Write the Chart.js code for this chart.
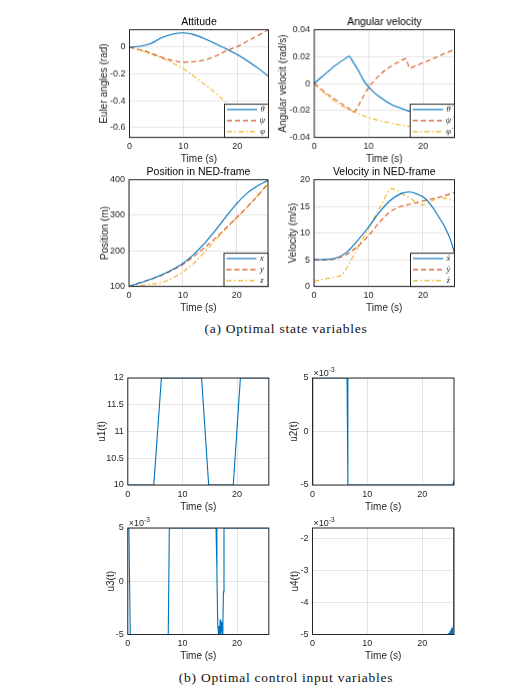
<!DOCTYPE html>
<html>
<head>
<meta charset="utf-8">
<title>Optimal state and control variables</title>
<script src="https://cdn.jsdelivr.net/npm/chart.js@4.4.1/dist/chart.umd.min.js"></script>
<style>
  html, body { margin: 0; padding: 0; background: #fff; }
  body { position: relative; width: 526px; height: 698px; overflow: hidden; }
  .panel { position: absolute; }
  .caption { position: absolute; left: 86px; width: 400px; text-align: center;
    font-family: "Liberation Serif", "DejaVu Serif", serif; font-size: 13.5px;
    letter-spacing: 0.75px; line-height: 16px; color: #111; }
</style>
</head>
<body>
<div class="panel" id="wrap-att"><canvas id="att"></canvas></div>
<div class="panel" id="wrap-angvel"><canvas id="angvel"></canvas></div>
<div class="panel" id="wrap-pos"><canvas id="pos"></canvas></div>
<div class="panel" id="wrap-vel"><canvas id="vel"></canvas></div>
<div class="panel" id="wrap-u1"><canvas id="u1"></canvas></div>
<div class="panel" id="wrap-u2"><canvas id="u2"></canvas></div>
<div class="panel" id="wrap-u3"><canvas id="u3"></canvas></div>
<div class="panel" id="wrap-u4"><canvas id="u4"></canvas></div>
<div class="caption" style="top:321px">(a) Optimal state variables</div>
<div class="caption" style="top:670px">(b) Optimal control input variables</div>
<script>
const BLUE = '#0072BD', RED = '#D95319', YELLOW = '#EDB120';
const FONT = '"Liberation Sans", Arial, Helvetica, sans-serif';
const DASH = [5, 3];
const DASHDOT = [5, 2.5, 1.5, 2.5];

// shared time axis (s)
const timeTicks = [0, 10, 20];
const timeMax = 25.8;

// Attitude (rad)
const attTime  = [0, 2, 4, 6, 8, 10, 12, 14, 16, 18, 20, 22, 24, 25.8];
const attTheta = [0, 0.006, 0.027, 0.071, 0.097, 0.106, 0.092, 0.062, 0.026, -0.014, -0.056, -0.106, -0.162, -0.218];
const attPsi   = [0, -0.02, -0.045, -0.076, -0.1, -0.113, -0.108, -0.095, -0.066, -0.026, 0.004, 0.047, 0.09, 0.13];
const attPhi   = [0, -0.025, -0.052, -0.081, -0.12, -0.162, -0.218, -0.28, -0.345, -0.415, -0.48, -0.54, -0.6, -0.65];
const attTicks = [-0.6, -0.4, -0.2, 0];

// Angular velocity (rad/s)
const thetaDotTime = [0, 1, 2, 3, 4, 5, 6, 6.4, 7, 8, 9, 10, 11, 12, 14, 16, 17.2, 18, 20, 22, 24, 25.8];
const thetaDot     = [0, 0.0036, 0.0071, 0.0105, 0.0138, 0.0166, 0.0194, 0.0205, 0.017, 0.0105, 0.003, -0.0025, -0.0065, -0.0098, -0.015, -0.0185, -0.0202, -0.021, -0.0225, -0.0235, -0.024, -0.0245];
const psiDotTime = [0, 2, 4, 6, 7.4, 8, 9, 10, 11, 12, 13, 14, 15, 16, 16.8, 17.6, 18, 19, 20, 21, 22, 23, 24, 25, 25.8];
const psiDot     = [0, -0.0065, -0.0122, -0.0175, -0.021, -0.0172, -0.0098, -0.003, 0.0022, 0.0062, 0.0098, 0.0125, 0.015, 0.017, 0.0185, 0.0113, 0.012, 0.0138, 0.0155, 0.017, 0.0188, 0.0205, 0.0225, 0.024, 0.0258];
const phiDotTime = [0, 1, 2, 3, 4, 5, 6, 7, 8, 9, 10, 12, 14, 16, 18, 20, 22, 24, 25.8];
const phiDot     = [0, -0.004, -0.0075, -0.0108, -0.0138, -0.0163, -0.0185, -0.0205, -0.0222, -0.0238, -0.0252, -0.0275, -0.0293, -0.0308, -0.032, -0.033, -0.0336, -0.034, -0.0342];
const angVelTicks = [-0.04, -0.02, 0, 0.02, 0.04];

// Position in NED-frame (m)
const posTime = [0, 2, 4, 6, 8, 10, 12, 14, 16, 18, 20, 22, 24, 25.8];
const posX = [100, 110, 120, 132, 147, 165, 190, 221, 257, 296, 333, 363, 384, 398];
const posY = [100, 110, 120, 131, 145, 162, 184, 209, 235, 264, 294, 324, 357, 390];
const posZ = [100, 103, 106, 111, 123, 141, 165, 196, 230, 262, 293, 324, 357, 388];
const posTicks = [100, 200, 300, 400];

// Velocity in NED-frame (m/s)
const xDotTime = [0, 2, 4, 6, 8, 10, 12, 14, 16, 17.5, 19, 20, 21, 22, 23, 24, 25, 25.8];
const xDot     = [5, 5.05, 5.3, 6.4, 8.6, 11.1, 13.9, 16.1, 17.4, 17.7, 17.3, 16.8, 15.9, 14.5, 12.9, 11.2, 8.9, 6.3];
const yDotTime = [0, 2, 4, 6, 8, 10, 12, 14, 16, 18, 20, 22, 24, 25.8];
const yDot     = [5, 5, 5.2, 6, 7.5, 9.5, 12, 14, 15, 15.5, 16, 16.5, 17, 17.6];
const zDotTime = [0, 2, 4, 5, 6, 7, 8, 10, 12, 14, 14.3, 15, 16, 17, 18, 19, 20, 21, 22, 23, 24, 25, 25.8];
const zDot     = [1, 1.4, 1.8, 2.1, 3.5, 5.3, 7.2, 10.9, 14.6, 18.2, 18.3, 18.1, 17.5, 16.9, 16.3, 15.6, 15.3, 15.6, 16.2, 16.6, 16.5, 16.3, 16.0];
const velTicks = [0, 5, 10, 15, 20];

// Control inputs (u2..u4 in units of 1e-3)
const u1Time = [0, 4.75, 6.15, 13.5, 14.8, 19.3, 20.6, 25.8];
const u1 = [10, 10, 12, 12, 10, 10, 12, 12];
const u1Ticks = [10, 10.5, 11, 11.5, 12];
const u2Time = [0, 0.05, 6.3, 6.45, 25.6, 25.68, 25.8];
const u2 = [-5, 5, 5, -5, -5, -4.75, -5];
const u2Ticks = [-5, 0, 5];
const u3Time = [0, 0.2, 0.45, 7.4, 7.6, 16.15, 16.3, 16.45, 16.6, 16.7, 16.8, 16.9, 17.0, 17.1, 17.2, 17.3, 17.4, 17.5, 17.6, 25.8];
const u3 = [5, 5, -5, -5, 5, 5, 1, -4, -5, -4.2, -5, -3.6, -5, -4.4, -3.8, -5, -4, -1, 5, 5];
const u3Ticks = [-5, 0, 5];
const u4Time = [0, 24.6, 24.9, 25.0, 25.1, 25.2, 25.3, 25.4, 25.5, 25.6, 25.68, 25.75];
const u4 = [-5, -5, -4.97, -5, -4.93, -5, -4.88, -5, -4.8, -5, -4.72, -1.6];
const u4Ticks = [-5, -4, -3, -2];

const TITLE_H = 10.5 * 1.2 + 1;
const X_H = 28;

function pts(t, v) {
  return t.map((x, i) => ({ x: x, y: v[i] }));
}

// box round the axes, legend inside lower right, x10^-3 marker
const matlabAxes = {
  id: 'matlabAxes',
  afterDatasetsDraw(chart, args, opts) {
    const ctx = chart.ctx;
    const a = chart.chartArea;
    ctx.save();
    ctx.setLineDash([]);
    ctx.strokeStyle = '#262626';
    ctx.lineWidth = 1;
    ctx.strokeRect(a.left, a.top, a.right - a.left, a.bottom - a.top);

    if (opts.exponent) {
      ctx.fillStyle = '#262626';
      ctx.textAlign = 'left';
      ctx.textBaseline = 'alphabetic';
      ctx.font = '9px ' + FONT;
      ctx.fillText('\u00D710', a.left + 1, a.top - 2);
      const w = ctx.measureText('\u00D710').width;
      ctx.font = '6.5px ' + FONT;
      ctx.fillText('-3', a.left + 1 + w, a.top - 6);
    }

    if (opts.items) {
      const w = 44, h = 33;
      const x0 = a.right - w, y0 = a.bottom - h;
      ctx.fillStyle = '#fff';
      ctx.fillRect(x0, y0, w, h);
      ctx.strokeStyle = '#262626';
      ctx.strokeRect(x0, y0, w, h);
      opts.items.forEach((it, i) => {
        const y = y0 + 5.3 + i * 11;
        ctx.strokeStyle = it.color;
        ctx.lineWidth = 1.1;
        ctx.setLineDash(it.dash || []);
        ctx.beginPath();
        ctx.moveTo(x0 + 2.5, y);
        ctx.lineTo(x0 + 32.5, y);
        ctx.stroke();
        ctx.setLineDash([]);
        ctx.fillStyle = '#222';
        ctx.font = 'italic 8.5px "Liberation Serif", "DejaVu Serif", serif';
        ctx.textAlign = 'center';
        ctx.textBaseline = 'middle';
        ctx.fillText(it.label, x0 + 38, y);
      });
    }
    ctx.restore();
  }
};

function panel(id, box, cfg) {
  const topH = cfg.title ? TITLE_H : 14;
  const wrap = document.getElementById('wrap-' + id);
  wrap.style.left = (box.left - cfg.yw) + 'px';
  wrap.style.top = (box.top - topH) + 'px';
  wrap.style.width = (cfg.yw + box.right - box.left + 4) + 'px';
  wrap.style.height = (topH + box.bottom - box.top + X_H) + 'px';

  const tickFont = { family: FONT, size: 9 };
  const axisTitleFont = { family: FONT, size: 10, lineHeight: 1.2 };
  const gridOpts = { color: 'rgba(38,38,38,0.15)', lineWidth: 0.8, drawTicks: false };

  new Chart(document.getElementById(id), {
    type: 'line',
    data: {
      datasets: cfg.series.map(s => ({
        label: s.label,
        data: pts(s.t, s.v),
        borderColor: s.color,
        borderWidth: 1.1,
        borderDash: s.dash || [],
        pointRadius: 0,
        fill: false,
        tension: 0,
        cubicInterpolationMode: cfg.smooth ? 'monotone' : 'default'
      }))
    },
    options: {
      responsive: true,
      maintainAspectRatio: false,
      animation: false,
      layout: { padding: { top: cfg.title ? 0 : 14, right: 4, left: 0, bottom: 0 } },
      scales: {
        x: {
          type: 'linear',
          min: 0,
          max: timeMax,
          afterBuildTicks: s => { s.ticks = timeTicks.map(v => ({ value: v })); },
          afterFit: s => { s.height = X_H; },
          ticks: { font: tickFont, color: '#262626', padding: 4, maxRotation: 0 },
          grid: gridOpts,
          border: { display: false },
          title: { display: true, text: 'Time (s)', font: axisTitleFont, color: '#262626', padding: 0 }
        },
        y: {
          type: 'linear',
          min: cfg.yMin,
          max: cfg.yMax,
          afterBuildTicks: s => { s.ticks = cfg.yTicks.map(v => ({ value: v })); },
          afterFit: s => { s.width = cfg.yw; },
          ticks: { font: tickFont, color: '#262626', padding: 4, callback: v => String(v) },
          grid: gridOpts,
          border: { display: false },
          title: { display: true, text: cfg.yTitle, font: axisTitleFont, color: '#262626', padding: 0 }
        }
      },
      plugins: {
        legend: { display: false },
        tooltip: { enabled: false },
        title: {
          display: !!cfg.title,
          text: cfg.title || '',
          fullSize: false,
          color: '#000',
          font: { family: FONT, size: 10.5, weight: 'normal', lineHeight: 1.2 },
          padding: { top: 0, bottom: 1 }
        },
        matlabAxes: { items: cfg.legend, exponent: cfg.exponent }
      }
    },
    plugins: [matlabAxes]
  });
}

panel('att', { left: 129, top: 30, right: 268, bottom: 137 }, {
  title: 'Attitude', yTitle: 'Euler angles (rad)', yw: 31.5, smooth: true,
  yMin: -0.675, yMax: 0.13, yTicks: attTicks,
  series: [
    { label: '\u03B8', t: attTime, v: attTheta, color: BLUE },
    { label: '\u03C8', t: attTime, v: attPsi, color: RED, dash: DASH },
    { label: '\u03C6', t: attTime, v: attPhi, color: YELLOW, dash: DASHDOT }
  ],
  legend: [
    { label: '\u03B8', color: BLUE },
    { label: '\u03C8', color: RED, dash: DASH },
    { label: '\u03C6', color: YELLOW, dash: DASHDOT }
  ]
});

panel('angvel', { left: 314, top: 30, right: 453.5, bottom: 137 }, {
  title: 'Angular velocity', yTitle: 'Angular velocit (rad/s)', yw: 37, smooth: true,
  yMin: -0.04, yMax: 0.04, yTicks: angVelTicks,
  series: [
    { label: '\u03B8\u0307', t: thetaDotTime, v: thetaDot, color: BLUE },
    { label: '\u03C8\u0307', t: psiDotTime, v: psiDot, color: RED, dash: DASH },
    { label: '\u03C6\u0307', t: phiDotTime, v: phiDot, color: YELLOW, dash: DASHDOT }
  ],
  legend: [
    { label: '\u03B8\u0307', color: BLUE },
    { label: '\u03C8\u0307', color: RED, dash: DASH },
    { label: '\u03C6\u0307', color: YELLOW, dash: DASHDOT }
  ]
});

panel('pos', { left: 129, top: 180, right: 268, bottom: 286 }, {
  title: 'Position in NED-frame', yTitle: 'Position (m)', yw: 30, smooth: true,
  yMin: 100, yMax: 400, yTicks: posTicks,
  series: [
    { label: 'x', t: posTime, v: posX, color: BLUE },
    { label: 'y', t: posTime, v: posY, color: RED, dash: DASH },
    { label: 'z', t: posTime, v: posZ, color: YELLOW, dash: DASHDOT }
  ],
  legend: [
    { label: 'x', color: BLUE },
    { label: 'y', color: RED, dash: DASH },
    { label: 'z', color: YELLOW, dash: DASHDOT }
  ]
});

panel('vel', { left: 313.5, top: 180, right: 454, bottom: 286 }, {
  title: 'Velocity in NED-frame', yTitle: 'Velocity (m/s)', yw: 27, smooth: true,
  yMin: 0, yMax: 20, yTicks: velTicks,
  series: [
    { label: '\u1E8B', t: xDotTime, v: xDot, color: BLUE },
    { label: '\u1E8F', t: yDotTime, v: yDot, color: RED, dash: DASH },
    { label: '\u017C', t: zDotTime, v: zDot, color: YELLOW, dash: DASHDOT }
  ],
  legend: [
    { label: '\u1E8B', color: BLUE },
    { label: '\u1E8F', color: RED, dash: DASH },
    { label: '\u017C', color: YELLOW, dash: DASHDOT }
  ]
});

panel('u1', { left: 127.5, top: 378, right: 268.5, bottom: 485 }, {
  yTitle: 'u1(t)', yw: 31.8, yMin: 10, yMax: 12, yTicks: u1Ticks,
  series: [{ label: 'u1', t: u1Time, v: u1, color: BLUE }]
});

panel('u2', { left: 312.5, top: 378, right: 454, bottom: 485 }, {
  yTitle: 'u2(t)', yw: 24.5, yMin: -5, yMax: 5, yTicks: u2Ticks, exponent: true,
  series: [{ label: 'u2', t: u2Time, v: u2, color: BLUE }]
});

panel('u3', { left: 127.5, top: 527.5, right: 268.5, bottom: 634 }, {
  yTitle: 'u3(t)', yw: 22.8, yMin: -5, yMax: 5, yTicks: u3Ticks, exponent: true,
  series: [{ label: 'u3', t: u3Time, v: u3, color: BLUE }]
});

panel('u4', { left: 312.5, top: 527.5, right: 454, bottom: 634 }, {
  yTitle: 'u4(t)', yw: 23.5, yMin: -5, yMax: -1.67, yTicks: u4Ticks, exponent: true,
  series: [{ label: 'u4', t: u4Time, v: u4, color: BLUE }]
});
</script>
</body>
</html>
